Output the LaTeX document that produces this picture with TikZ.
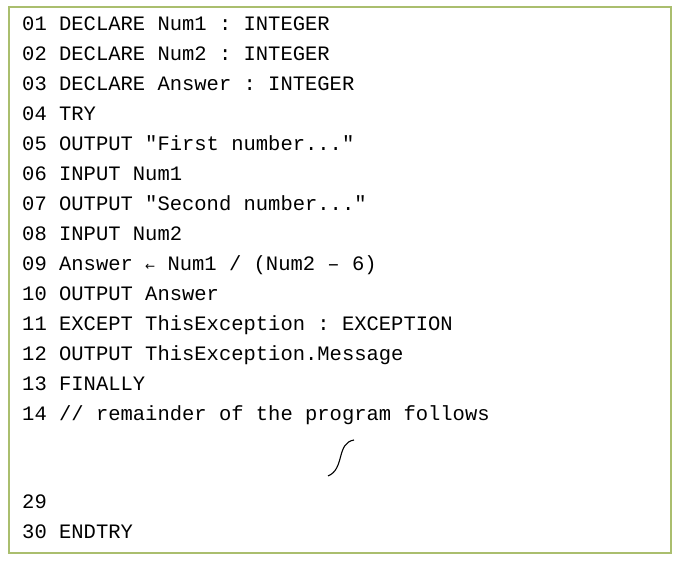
\documentclass[tikz,border=0pt]{standalone}
\usepackage{fontspec}
\setmonofont{Liberation Mono}
\newfontfamily\arrowfont{DejaVu Sans}
\definecolor{frame}{RGB}{170,190,110}
\begin{document}
\begin{tikzpicture}[x=1pt,y=1pt,
  codeline/.style={anchor=base west,inner sep=0pt,font=\ttfamily\fontsize{20.5}{24}\selectfont}]
\useasboundingbox (0,0) rectangle (682,561);
\draw[frame,line width=1.2pt] (9,8) rectangle (671,554);
\node[codeline] (l1) at (22,530) {01 DECLARE Num1 : INTEGER};
\node[codeline] (l2) at (22,500) {02 DECLARE Num2 : INTEGER};
\node[codeline] (l3) at (22,470) {03 DECLARE Answer : INTEGER};
\node[codeline] (l4) at (22,440) {04 TRY};
\node[codeline] (l5) at (22,410) {05 OUTPUT "First number..."};
\node[codeline] (l6) at (22,380) {06 INPUT Num1};
\node[codeline] (l7) at (22,350) {07 OUTPUT "Second number..."};
\node[codeline] (l8) at (22,320) {08 INPUT Num2};
\node[codeline] (l9) at (22,290) {09 Answer {\arrowfont\fontsize{12}{14}\selectfont ←} Num1 / (Num2 – 6)};
\node[codeline] (l10) at (22,260) {10 OUTPUT Answer};
\node[codeline] (l11) at (22,230) {11 EXCEPT ThisException : EXCEPTION};
\node[codeline] (l12) at (22,200) {12 OUTPUT ThisException.Message};
\node[codeline] (l13) at (22,170) {13 FINALLY};
\node[codeline] (l14) at (22,140) {14 // remainder of the program follows};
\node[codeline] (l29) at (22,52) {29};
\node[codeline] (l30) at (22,22) {30 ENDTRY};
\coordinate (c1) at (328,85);
\coordinate (c2) at (354,121);
\draw[line width=1.1pt] (c1) .. controls (345,92) and (336,118) .. (c2);
\end{tikzpicture}
\end{document}
